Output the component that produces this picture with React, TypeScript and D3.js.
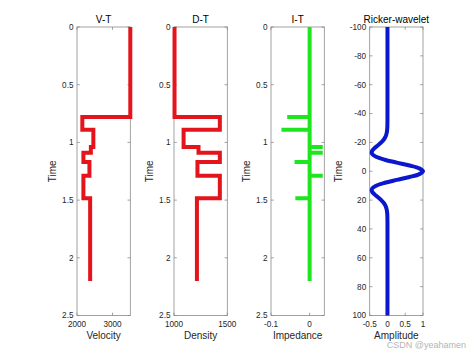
import React from "react";
import * as d3 from "d3";

// ---- data ----
const layerTimes = [0, 0.78, 0.89, 1.04, 1.09, 1.17, 1.29, 1.485, 2.2];
const velocity = [3500, 2150, 2460, 2390, 2180, 2350, 2180, 2370];
const density = [1005, 1430, 1090, 1230, 1430, 1220, 1430, 1215];
const spikeTimes = [0.78, 0.89, 1.04, 1.09, 1.17, 1.29, 1.485];
const impedance = [-0.058, -0.073, 0.034, 0.034, -0.039, 0.034, -0.037];
const rickerTime = [
  -100, -36, -34, -32, -30, -28, -26, -24, -22, -20, -18, -16, -14, -12, -10, -8, -6, -4, -2, 0,
  2, 4, 6, 8, 10, 12, 14, 16, 18, 20, 22, 24, 26, 28, 30, 32, 34, 36, 100,
];
const rickerAmp = [
  0, 0, -0.001, -0.002, -0.005, -0.012, -0.027, -0.055, -0.103, -0.175, -0.268, -0.365, -0.435, -0.434, -0.319, -0.078, 0.262, 0.621, 0.897, 1,
  0.897, 0.621, 0.262, -0.078, -0.319, -0.434, -0.435, -0.365, -0.268, -0.175, -0.103, -0.055, -0.027, -0.012, -0.005, -0.002, -0.001, 0, 0,
];

const timeTicks = [0, 0.5, 1, 1.5, 2, 2.5];
const rickerTicks = [-100, -80, -60, -40, -20, 0, 20, 40, 60, 80, 100];

const FONT = "'Liberation Sans', Arial, Helvetica, sans-serif";
const TOP = 27;
const BOTTOM = 315.5;
const W = 53.3;
const AXC = "#8a8a8a";
const TXT = "#262626";

type Panel = {
  left: number;
  title: string;
  xlabel: string;
  xdomain: [number, number];
  xticks: number[];
  ydomain: [number, number];
  yticks: number[];
  ylabelOffset: number;
  path: [number, number][];
  color: string;
  curve?: d3.CurveFactory;
};

function stepPath(vals: number[]): [number, number][] {
  const pts: [number, number][] = [];
  vals.forEach((v, i) => {
    pts.push([v, layerTimes[i]]);
    pts.push([v, layerTimes[i + 1]]);
  });
  return pts;
}

function spikePath(): [number, number][] {
  const pts: [number, number][] = [[0, layerTimes[0]]];
  spikeTimes.forEach((t, i) => {
    pts.push([0, t]);
    pts.push([impedance[i], t]);
    pts.push([0, t]);
  });
  pts.push([0, layerTimes[layerTimes.length - 1]]);
  return pts;
}

const panels: Panel[] = [
  {
    left: 77, title: "V-T", xlabel: "Velocity", xdomain: [2000, 3500], xticks: [2000, 3000],
    ydomain: [0, 2.5], yticks: timeTicks, ylabelOffset: 21.5, path: stepPath(velocity), color: "#e3141b",
  },
  {
    left: 174, title: "D-T", xlabel: "Density", xdomain: [1000, 1500], xticks: [1000, 1500],
    ydomain: [0, 2.5], yticks: timeTicks, ylabelOffset: 21.5, path: stepPath(density), color: "#e3141b",
  },
  {
    left: 271, title: "I-T", xlabel: "Impedance", xdomain: [-0.1, 0.038], xticks: [-0.1, 0],
    ydomain: [0, 2.5], yticks: timeTicks, ylabelOffset: 21.5, path: spikePath(), color: "#1ee61e",
  },
  {
    left: 369.7, title: "Ricker-wavelet", xlabel: "Amplitude", xdomain: [-0.5, 1], xticks: [-0.5, 0, 0.5, 1],
    ydomain: [-100, 100], yticks: rickerTicks, ylabelOffset: 28,
    path: rickerTime.map((t, i) => [rickerAmp[i], t] as [number, number]), color: "#0b17cc",
    curve: d3.curveCatmullRom,
  },
];

function PanelView({ p }: { p: Panel }) {
  const x = d3.scaleLinear().domain(p.xdomain).range([p.left, p.left + W]);
  const y = d3.scaleLinear().domain(p.ydomain).range([TOP, BOTTOM]);
  const line = d3
    .line<[number, number]>()
    .x((d) => x(d[0]))
    .y((d) => y(d[1]))
    .curve(p.curve || d3.curveLinear);
  const tl = 2.8;
  const r = p.left + W;
  const cx = p.left + W / 2;
  return (
    <g>
      <rect x={p.left} y={TOP} width={W} height={BOTTOM - TOP} fill="none" stroke={AXC} strokeWidth={0.8} />
      {p.yticks.map((t) => (
        <g key={"y" + t}>
          <line x1={p.left} x2={p.left + tl} y1={y(t)} y2={y(t)} stroke={AXC} strokeWidth={0.8} />
          <line x1={r} x2={r - tl} y1={y(t)} y2={y(t)} stroke={AXC} strokeWidth={0.8} />
          <text x={p.left - 3.5} y={y(t)} dy="0.35em" textAnchor="end" fontSize={8.2} fill={TXT} fontFamily={FONT}>
            {String(t)}
          </text>
        </g>
      ))}
      {p.xticks.map((t) => (
        <g key={"x" + t}>
          <line x1={x(t)} x2={x(t)} y1={BOTTOM} y2={BOTTOM - tl} stroke={AXC} strokeWidth={0.8} />
          <line x1={x(t)} x2={x(t)} y1={TOP} y2={TOP + tl} stroke={AXC} strokeWidth={0.8} />
          <text x={x(t)} y={BOTTOM + 11.5} textAnchor="middle" fontSize={8.2} fill={TXT} fontFamily={FONT}>
            {String(t)}
          </text>
        </g>
      ))}
      <path
        d={line(p.path) || ""}
        fill="none"
        stroke={p.color}
        strokeWidth={4}
        strokeLinejoin="miter"
      />
      <text x={cx} y={22.5} textAnchor="middle" fontSize={10} fill="#000" fontFamily={FONT}>
        {p.title}
      </text>
      <text x={cx} y={339} textAnchor="middle" fontSize={10} fill={TXT} fontFamily={FONT}>
        {p.xlabel}
      </text>
      <text
        transform={`translate(${p.left - p.ylabelOffset},${(TOP + BOTTOM) / 2}) rotate(-90)`}
        textAnchor="middle"
        fontSize={10}
        fill={TXT}
        fontFamily={FONT}
      >
        Time
      </text>
    </g>
  );
}

export default function App() {
  return (
    <svg
      width={474}
      height={355}
      viewBox="0 0 474 355"
      style={{ position: "absolute", left: 0, top: 0, background: "#fff" }}
    >
      <rect x={0} y={0} width={474} height={355} fill="#fff" />
      {panels.map((p) => (
        <PanelView key={p.title} p={p} />
      ))}
      <text x={466} y={348} textAnchor="end" fontSize={9} fill="#b4b4b4" fontFamily={FONT}>
        CSDN @yeahamen
      </text>
    </svg>
  );
}
